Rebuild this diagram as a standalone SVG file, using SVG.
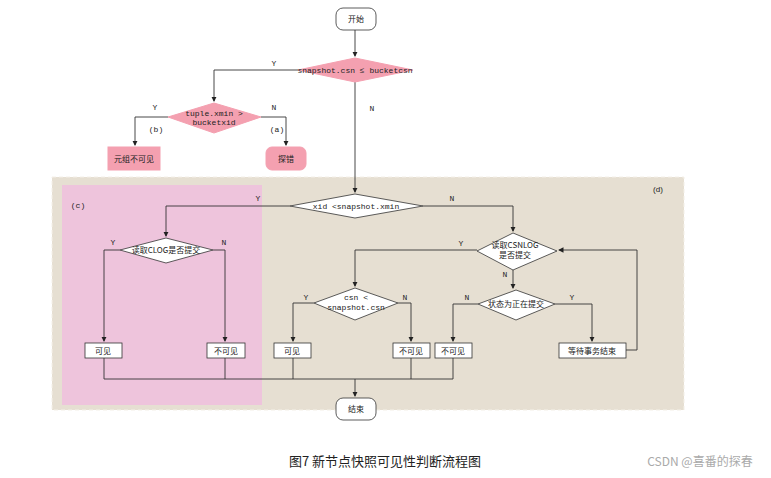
<svg xmlns="http://www.w3.org/2000/svg" width="771" height="478" viewBox="0 0 771 478">
<style>
text{font-family:"Liberation Mono","Noto Sans CJK SC",monospace;font-size:8px;fill:#222;text-anchor:middle}
.cj{font-family:"Noto Sans CJK SC",sans-serif}
.pk{fill:#f4a0b0;stroke:#f4a0b0}
.wh{fill:#fff;stroke:#333;stroke-width:0.8}
.ln{fill:none;stroke:#333;stroke-width:0.9}
</style>
<defs><marker id="a" viewBox="0 0 6 6" refX="5" refY="3" markerWidth="6" markerHeight="6" orient="auto"><path d="M0,0L6,3L0,6z" fill="#222"/></marker></defs>
<rect width="771" height="478" fill="#fff"/>
<rect x="52" y="177" width="632" height="233" fill="#e6dfd2" stroke="#f4f0e8" stroke-dasharray="4,3"/>
<rect x="62" y="185" width="200" height="220" fill="#eec4dc"/>
<text x="78" y="208">(c)</text><text x="658" y="192" style="font-family:'Liberation Sans',sans-serif">(d)</text>
<g id="connectors" class="ln">
<path d="M355,30V56" marker-end="url(#a)"/>
<path d="M298,70H214V101" marker-end="url(#a)"/>
<path d="M168,117H135V145" marker-end="url(#a)"/>
<path d="M261,117H286V145" marker-end="url(#a)"/>
<path d="M355,82V192" marker-end="url(#a)"/>
<path d="M290,206H166V236" marker-end="url(#a)"/>
<path d="M120,250H104V341" marker-end="url(#a)"/>
<path d="M213,250H225V341" marker-end="url(#a)"/>
<path d="M423,206H513V231" marker-end="url(#a)"/>
<path d="M477,250H355V286" marker-end="url(#a)"/>
<path d="M314,303H293V341" marker-end="url(#a)"/>
<path d="M398,303H411V341" marker-end="url(#a)"/>
<path d="M513,270V288" marker-end="url(#a)"/>
<path d="M478,304H453V341" marker-end="url(#a)"/>
<path d="M555,304H592V341" marker-end="url(#a)"/>
<path d="M626,350H637V250H559" marker-end="url(#a)"/>
<path d="M104,358V379H453V358M225,358V379M293,358V379M411,358V379"/>
<path d="M355,379V396" marker-end="url(#a)"/>
</g>
<text x="274" y="66">Y</text><text x="372" y="111">N</text>
<text x="155" y="110">Y</text><text x="274" y="110">N</text>
<text x="156" y="132">(b)</text><text x="277" y="132">(a)</text>
<text x="258" y="201">Y</text><text x="452" y="201">N</text>
<text x="113" y="245">Y</text><text x="224" y="245">N</text>
<text x="461" y="246">Y</text><text x="505" y="277">N</text>
<text x="306" y="300">Y</text><text x="405" y="300">N</text>
<text x="467" y="300">N</text><text x="572" y="300">Y</text>
<g id="start"><rect x="336" y="8" width="40" height="22" rx="7" class="wh"/><text x="356" y="22" class="cj">开始</text></g>
<g id="d1"><path d="M298,70L355,58L413,70L355,82Z" class="pk"/><text x="355" y="73">snapshot.csn ≤ bucketcsn</text></g>
<g id="d2"><path d="M168,117L214,103L261,117L214,133Z" class="pk"/><text x="214" y="116">tuple.xmin &gt;</text><text x="214" y="125">bucketxid</text></g>
<g id="b1"><rect x="108" y="147" width="52" height="23" class="pk"/><text x="134" y="162" class="cj">元组不可见</text></g>
<g id="b2"><rect x="266" y="147" width="40" height="23" rx="6" class="pk"/><text x="286" y="162" class="cj">探错</text></g>
<g id="d3"><path d="M290,206L355,194L423,206L355,218Z" class="wh"/><text x="356" y="209">xid &lt;snapshot.xmin</text></g>
<g id="d4"><path d="M120,250L166,238L213,250L166,263Z" class="wh"/><text x="166" y="253" class="cj">读取CLOG是否提交</text></g>
<g id="d5"><path d="M477,251L513,233L557,251L513,270Z" class="wh"/><text x="515" y="248" class="cj">读取CSNLOG</text><text x="515" y="258" class="cj">是否提交</text></g>
<g id="d6"><path d="M314,303L355,288L398,303L355,320Z" class="wh"/><text x="356" y="300">csn &lt;</text><text x="356" y="310">snapshot.csn</text></g>
<g id="d7"><path d="M478,304L516,290L555,304L516,320Z" class="wh"/><text x="516" y="307" class="cj">状态为正在提交</text></g>
<g id="v1"><rect x="85" y="343" width="37" height="15" class="wh"/><text x="103" y="354" class="cj">可见</text></g>
<g id="n1"><rect x="207" y="343" width="38" height="15" class="wh"/><text x="226" y="354" class="cj">不可见</text></g>
<g id="v2"><rect x="274" y="343" width="37" height="15" class="wh"/><text x="292" y="354" class="cj">可见</text></g>
<g id="n2"><rect x="393" y="343" width="37" height="15" class="wh"/><text x="411" y="354" class="cj">不可见</text></g>
<g id="n3"><rect x="435" y="343" width="37" height="15" class="wh"/><text x="453" y="354" class="cj">不可见</text></g>
<g id="w"><rect x="559" y="343" width="67" height="15" class="wh"/><text x="592" y="354" class="cj">等待事务结束</text></g>
<g id="end"><rect x="336" y="398" width="40" height="22" rx="7" class="wh"/><text x="356" y="412" class="cj">结束</text></g>
<text x="385" y="466" class="cj" style="font-size:13px">图7 新节点快照可见性判断流程图</text>
<text x="700" y="466" class="cj" style="font-size:12px;fill:#aaa">CSDN @喜番的探春</text>
</svg>
